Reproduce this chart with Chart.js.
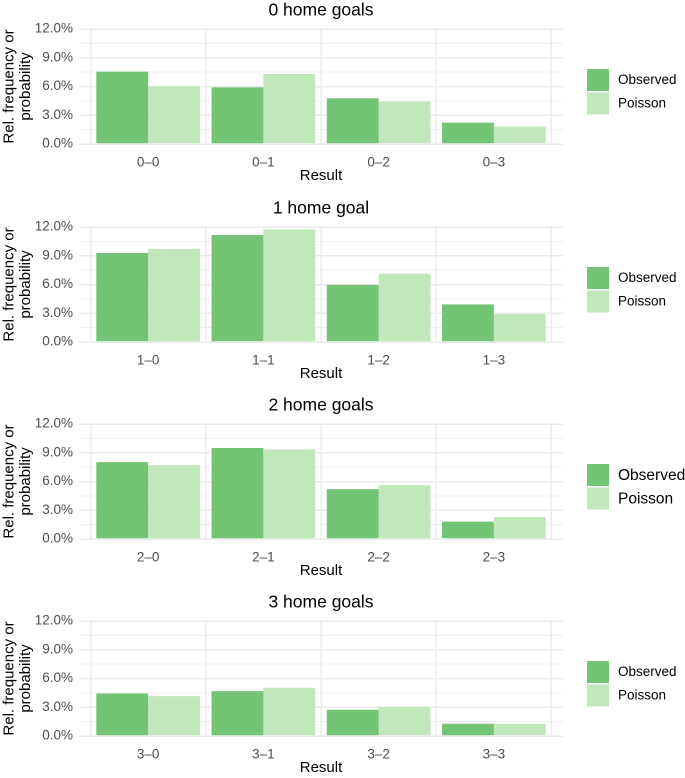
<!DOCTYPE html>
<html>
<head>
<meta charset="utf-8">
<script src="https://cdn.jsdelivr.net/npm/chart.js@4.4.0/dist/chart.umd.min.js"></script>
<style>
  html, body { margin: 0; padding: 0; background: #ffffff; }
  body { width: 685px; height: 778px; position: relative; overflow: hidden; }
  .panel { position: absolute; left: 0; width: 685px; height: 186px; }
</style>
</head>
<body>
<div class="panel" style="top:0px"><canvas id="c0"></canvas></div>
<div class="panel" style="top:198px"><canvas id="c1"></canvas></div>
<div class="panel" style="top:395px"><canvas id="c2"></canvas></div>
<div class="panel" style="top:592px"><canvas id="c3"></canvas></div>
<script>
// ---- data (relative frequency / probability, in percent) ----
const panelTitles = ["0 home goals", "1 home goal", "2 home goals", "3 home goals"];
const seriesNames = ["Observed", "Poisson"];

const categories0 = ["0\u20130", "0\u20131", "0\u20132", "0\u20133"];
const categories1 = ["1\u20130", "1\u20131", "1\u20132", "1\u20133"];
const categories2 = ["2\u20130", "2\u20131", "2\u20132", "2\u20133"];
const categories3 = ["3\u20130", "3\u20131", "3\u20132", "3\u20133"];

const observed0 = [7.55, 5.91, 4.77, 2.23];
const poisson0  = [6.02, 7.30, 4.42, 1.81];
const observed1 = [9.30, 11.16, 5.96, 3.93];
const poisson1  = [9.72, 11.75, 7.12, 2.91];
const observed2 = [8.02, 9.49, 5.20, 1.81];
const poisson2  = [7.71, 9.35, 5.62, 2.30];
const observed3 = [4.44, 4.68, 2.74, 1.28];
const poisson3  = [4.16, 5.03, 3.05, 1.28];

const yAxisTitle = ["Rel. frequency or", "probability"];
const xAxisTitle = "Result";

// ---- styling ----
const FONT = "'Liberation Sans', Arial, Helvetica, sans-serif";
const OBS_COLOR = "#74c476";
const POI_COLOR = "#c1e8ba";
const GRID = "#ebebeb";
Chart.defaults.font.family = FONT;

const legendPlugin = {
  id: 'hgLegend',
  afterDraw(chart, args, opts) {
    const { ctx, chartArea } = chart;
    const keyX = chartArea.right + 24, keyW = 22, keyH = 22, gap = 1.5;
    const top = chartArea.top + 40;
    ctx.save();
    chart.data.datasets.forEach((ds, i) => {
      const y = top + i * (keyH + gap);
      ctx.fillStyle = ds.backgroundColor;
      ctx.fillRect(keyX, y, keyW, keyH);
      ctx.fillStyle = '#000000';
      ctx.font = opts.fontSize + 'px ' + FONT;
      ctx.textAlign = 'left';
      ctx.textBaseline = 'middle';
      ctx.fillText(ds.label, keyX + 31, y + keyH / 2 + 0.5);
    });
    ctx.restore();
  }
};

function makeChart(id, title, cats, obs, poi, legendFontSize) {
  const toPts = arr => arr.map((v, i) => ({ x: i, y: v }));
  return new Chart(document.getElementById(id), {
    type: 'bar',
    data: {
      datasets: [
        { label: seriesNames[0], data: toPts(obs), backgroundColor: OBS_COLOR,
          categoryPercentage: 0.9, barPercentage: 1.0, borderWidth: 0 },
        { label: seriesNames[1], data: toPts(poi), backgroundColor: POI_COLOR,
          categoryPercentage: 0.9, barPercentage: 1.0, borderWidth: 0 }
      ]
    },
    options: {
      responsive: true,
      maintainAspectRatio: false,
      animation: false,
      devicePixelRatio: 2,
      layout: { padding: { left: 0, right: 122, top: 0, bottom: 0 } },
      plugins: {
        legend: { display: false },
        tooltip: { enabled: false },
        title: {
          display: true, text: title, fullSize: false, color: '#000000',
          font: { family: FONT, size: 17.5, weight: 'normal' },
          padding: { top: 0, bottom: 8 }
        },
        hgLegend: { fontSize: legendFontSize }
      },
      scales: {
        x: {
          type: 'linear', min: -0.6, max: 3.6, offset: false,
          grid: { color: GRID, lineWidth: 1.5, drawTicks: false },
          border: { display: false },
          ticks: {
            stepSize: 1, includeBounds: false, autoSkip: false, maxRotation: 0,
            color: '#4d4d4d', font: { family: FONT, size: 13.5 }, padding: 10.5,
            callback: v => (Number.isInteger(v) && cats[v] !== undefined ? cats[v] : '')
          },
          title: {
            display: true, text: xAxisTitle, color: '#000000',
            font: { family: FONT, size: 15 }, padding: { top: 0, bottom: 1 }
          },
          afterFit: s => { s.height = 42; }
        },
        y: {
          min: 0, max: 12,
          grid: {
            color: GRID, drawTicks: false,
            lineWidth: c => (c.tick && Math.abs(c.tick.value % 3) < 1e-6 ? 1.5 : 0.8)
          },
          border: { display: false },
          ticks: {
            stepSize: 1.5, autoSkip: false, color: '#4d4d4d',
            font: { family: FONT, size: 13.5 }, padding: 6,
            callback: v => (Math.abs(v % 3) < 1e-6 ? v.toFixed(1) + '%' : '')
          },
          title: {
            display: true, text: yAxisTitle, color: '#000000',
            font: { family: FONT, size: 15, lineHeight: 1.1 }, padding: { top: 1, bottom: 0 }
          },
          afterFit: s => { s.width = 79; }
        }
      }
    },
    plugins: [legendPlugin]
  });
}

makeChart('c0', panelTitles[0], categories0, observed0, poisson0, 13.5);
makeChart('c1', panelTitles[1], categories1, observed1, poisson1, 13.5);
makeChart('c2', panelTitles[2], categories2, observed2, poisson2, 15.5);
makeChart('c3', panelTitles[3], categories3, observed3, poisson3, 13.5);
</script>
</body>
</html>
